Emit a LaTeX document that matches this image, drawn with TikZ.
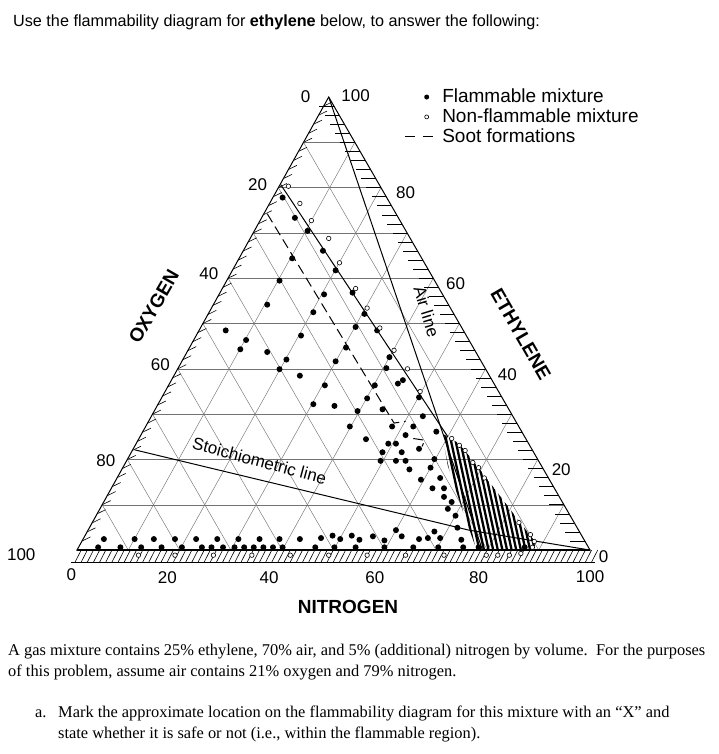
\documentclass[tikz,border=0pt]{standalone}
\usepackage{fontspec}
\setmainfont{Liberation Serif}
\newfontfamily\arial{Liberation Sans}
\begin{document}
\begin{tikzpicture}[x=1pt,y=-1pt,
  fd/.style={circle,fill=black,inner sep=0pt,minimum size=6pt},
  od/.style={circle,draw=black,fill=white,line width=0.6pt,inner sep=0pt,minimum size=4.5pt},
  grid/.style={draw=black!55,line width=0.45pt},
  lbl/.style={font=\arial\fontsize{17}{19}\selectfont,inner sep=0pt},
  bl/.style={font=\arial\bfseries\fontsize{19}{21}\selectfont,inner sep=0pt},
  leg/.style={font=\arial\fontsize{19}{21}\selectfont,inner sep=0pt,anchor=west},
  body/.style={font=\fontsize{16.4}{19}\selectfont,inner sep=0pt,anchor=base west}]
\useasboundingbox (0,0) rectangle (719,754);
\node[anchor=base west,inner sep=0pt,font=\arial\fontsize{16.2}{18}\selectfont] (head) at (13,27) {Use the flammability diagram for \textbf{ethylene} below, to answer the following:};
\begin{scope}[shift={(59.7,62.7)},xscale=0.3843,yscale=0.3432]
\coordinate (L) at (45,1420); \coordinate (R) at (1380,1420); \coordinate (T) at (700,100);
% grid
\foreach \k in {10,20,...,90}{
  \pgfmathsetmacro\c{(100-\k)/100}
  \pgfmathsetmacro\kk{\k/100}
  \draw[grid] (barycentric cs:L=\c,T=\kk) -- (barycentric cs:R=\c,T=\kk);
  \draw[grid] (barycentric cs:L=\c,R=\kk) -- (barycentric cs:T=\c,R=\kk);
  \draw[grid] (barycentric cs:R=\c,L=\kk) -- (barycentric cs:T=\c,L=\kk);
}
% ticks
\foreach \k in {2,4,...,98}{
  \pgfmathsetmacro\c{(100-\k)/100}
  \pgfmathsetmacro\kk{\k/100}
  \draw[line width=0.6pt] (barycentric cs:L=\c,T=\kk) -- ++(22,-12);
  \draw[line width=0.6pt] (barycentric cs:R=\c,T=\kk) -- ++(-38,0);
}
\foreach \x in {40,56,...,1390}{\draw[line width=0.6pt] (\x,1455) -- (\x+16,1420);}
\draw[line width=1pt] (L) -- (T) -- (R) -- cycle;
\draw[line width=1pt] (30,1455) -- (1392,1455);
\draw[line width=1.4pt] (L) -- (R);
% hatched region
\begin{scope}
\clip (995,1080) -- (1040,1110) -- (1090,1180) -- (1195,1335) -- (1240,1400) -- (1230,1420) -- (1085,1420) -- (1050,1310) -- (1010,1175) -- cycle;
\foreach \x in {880,892,...,1260}{\draw[line width=2.3pt] (\x,1070) -- (\x+70,1430);}
\end{scope}
% lines
\draw[line width=1pt] (T) -- (1100,1420);
\draw[line width=1pt] (575,355) -- (1010,1090);
\draw[line width=1pt] (195,1128) -- (1065,1362) -- (R);
\draw[line width=1pt,dash pattern=on 10pt off 5pt] (540,440) -- (870,1050) -- (900,1045);
\draw[line width=1pt,dash pattern=on 10pt off 5pt] (920,1095) -- (950,1100) -- (943,1118);
% filled dots
\foreach \p in {(580,393),(612,452),(645,490),(685,548),(718,605),(762,670),(793,732),(826,780),(858,858),(893,925),(935,975),
 (605,570),(572,635),(540,705),(432,780),(485,808),(470,835),(540,843),(572,893),(590,865),(625,912),(628,795),(660,727),(688,675),
 (770,770),(745,830),(718,870),(690,940),(660,995),(715,1000),(755,1060),(797,1097),(775,1015),(800,978),(820,940),(850,890),(880,935),
 (840,1010),(865,1060),(855,1110),(840,1135),(835,1160),(875,1160),(900,1085),(910,1185),(935,1125),(940,1215),(970,1240),(965,1180),
 (975,1155),(990,1210),(1000,1265),(1010,1300),(1030,1320),(920,1060),(945,1030),(980,1075),(875,1110),(890,1135),(900,1160),
 (1000,1240),(1020,1280),(1035,1355),(1045,1390),
 (115,1388),(195,1388),(245,1388),(300,1388),(355,1388),(410,1388),(465,1388),(520,1388),(572,1388),(625,1388),(680,1385),(710,1378),
 (730,1388),(760,1378),(780,1390),(815,1380),(845,1392),(875,1362),(890,1380),(935,1388),(958,1385),(975,1366),(990,1385),
 (100,1412),(158,1412),(212,1412),(265,1412),(318,1412),(370,1412),(395,1412),(425,1412),(455,1412),(480,1412),(505,1412),(530,1412),
 (555,1412),(580,1412),(665,1412),(715,1412),(770,1412),(845,1412),(920,1412),(985,1412),(1050,1412),(1090,1412),(1210,1412)}
  {\node[fd] at \p {};}
% open dots
\foreach \p in {(595,360),(625,410),(655,460),(700,512),(728,583),(770,658),(800,715),(833,773),(870,838),(905,892),(938,958),
 (1020,1095),(1040,1115),(1055,1130),(1075,1165),(1090,1180),(1105,1210),(1195,1340),(1225,1375),(1235,1395),(1230,1412),
 (1110,1435),(1140,1435),(1170,1435),(1200,1430),(205,1435),(300,1435),(400,1435),(500,1435),(600,1435),(700,1435),(800,1435),(900,1435),(1000,1435)}
  {\node[od] at \p {};}
% labels
\node[lbl] at (640,100) {0}; \node[lbl] at (770,97) {100};
\node[lbl] at (515,355) {20}; \node[lbl] at (388,615) {40}; \node[lbl] at (262,880) {60}; \node[lbl] at (120,1160) {80};
\node[lbl] at (-100,1434) {100};
\node[lbl] at (30,1493) {0}; \node[lbl] at (280,1500) {20}; \node[lbl] at (545,1500) {40}; \node[lbl] at (820,1500) {60}; \node[lbl] at (1090,1500) {80}; \node[lbl] at (1380,1497) {100};
\node[lbl] at (900,380) {80}; \node[lbl] at (1030,645) {60}; \node[lbl] at (1165,910) {40}; \node[lbl] at (1305,1185) {20}; \node[lbl] at (1415,1440) {0};
\node[bl,rotate=60] at (245,710) {OXYGEN};
\node[bl,rotate=-60] at (1200,790) {ETHYLENE};
\node[lbl,rotate=-73] at (955,725) {Air line};
\node[lbl,rotate=-15] at (520,1160) {Stoichiometric line};
\node[fd,minimum size=5pt] at (955,100) {};
\node[leg] at (995,97) {Flammable mixture};
\node[od,minimum size=4pt] at (955,158) {};
\node[leg] at (995,155) {Non-flammable mixture};
\draw[line width=1.2pt] (898,215) -- (925,215) (945,215) -- (972,215);
\node[leg] at (995,213) {Soot formations};
\end{scope}
\node[bl] (nit) at (348,607) {NITROGEN};
\node[body] (p1) at (8,655) {A gas mixture contains 25\% ethylene, 70\% air, and 5\% (additional) nitrogen by volume.\ \ For the purposes};
\node[body] (p2) at (8,676) {of this problem, assume air contains 21\% oxygen and 79\% nitrogen.};
\node[body] (a) at (35,717) {a.};
\node[body] (q1) at (58,717) {Mark the approximate location on the flammability diagram for this mixture with an ``X'' and};
\node[body] (q2) at (58,738) {state whether it is safe or not (i.e., within the flammable region).};
\end{tikzpicture}
\end{document}
